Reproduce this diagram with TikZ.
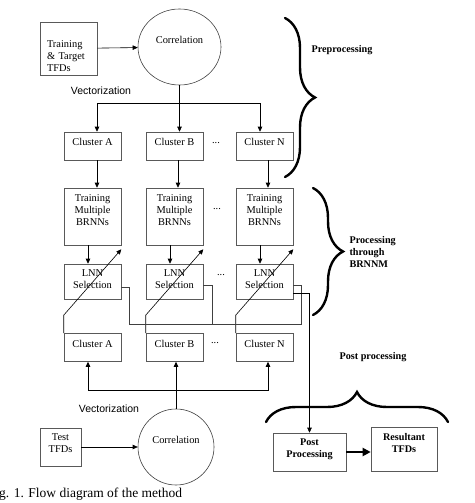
\documentclass[tikz,border=0pt]{standalone}
\usepackage{fontspec}
\setmainfont{Liberation Serif}
\setsansfont{Liberation Sans}
\usepackage{tikz}
\usetikzlibrary{arrows.meta,positioning,shapes.geometric,calc,decorations.pathreplacing}

\begin{document}
\begin{tikzpicture}[x=1pt, y=-1pt, font=\fontsize{10.4}{12}\selectfont]
    \useasboundingbox (0,0) rectangle (474,503);
    % Define styles
    \tikzstyle{block} = [rectangle, draw=black!65, line width=0.6pt, minimum width=57pt,
                         inner sep=2pt, align=center]
    \tikzstyle{cluster} = [block, minimum height=28pt, text depth=8pt]
    \tikzstyle{train} = [block, minimum height=57pt, text depth=13pt]
    \tikzstyle{select} = [block, minimum height=35pt, text depth=4pt]
    \tikzstyle{corr} = [ellipse, draw=black!75, line width=0.6pt, inner sep=0pt, text depth=14pt]
    \tikzstyle{arr} = [-{Triangle[length=5pt,width=4.5pt]}, line width=0.6pt]
    \tikzstyle{link} = [line width=0.6pt, draw=black!75]
    \tikzstyle{curly} = [decorate, decoration={brace, amplitude=30pt}, line width=2.4pt, line cap=round]
    \tikzstyle{tag} = [font=\fontsize{10.2}{12}\selectfont\bfseries, align=left]
    \tikzstyle{vec} = [font=\sffamily\fontsize{10.5}{12}\selectfont]

    % Nodes
    \node[block, minimum height=53pt, text width=43pt, align=left, inner xsep=7pt, text depth=9pt]
        (ttd) at (68.5,48.5) {Training\\\& Target\\TFDs};
    \node[corr, minimum width=83pt, minimum height=76pt] (corr1) at (179.5,47) {Correlation};

    \node[cluster] (topA) at (92.5,146) {Cluster A};
    \node[cluster] (topB) at (174.5,146) {Cluster B};
    \node[cluster] (topN) at (264.5,146) {Cluster N};
    \node (dotsT) at (216,143) {...};

    \node[train] (trainA) at (92.5,216.5) {Training\\Multiple\\BRNNs};
    \node[train] (trainB) at (174.5,216.5) {Training\\Multiple\\BRNNs};
    \node[train] (trainN) at (264.5,216.5) {Training\\Multiple\\BRNNs};
    \node (dotsR) at (217,209) {...};

    \node[select] (selA) at (92.5,281.5) {LNN\\Selection};
    \node[select] (selB) at (174.5,281.5) {LNN\\Selection};
    \node[select] (selN) at (264.5,281.5) {LNN\\Selection};
    \node (dotsS) at (221,275) {...};

    \node[cluster] (lowA) at (92.5,347.5) {Cluster A};
    \node[cluster] (lowB) at (174.5,347.5) {Cluster B};
    \node[cluster] (lowN) at (264.5,347.5) {Cluster N};
    \node (dotsL) at (215,343) {...};

    \node[block, minimum width=41pt, minimum height=38pt, text depth=7pt] (test) at (60.5,447) {Test\\TFDs};
    \node[corr, minimum width=76pt, minimum height=76pt] (corr2) at (176,447) {Correlation};
    \node[block, minimum width=73pt, minimum height=38pt, font=\fontsize{10.2}{12}\selectfont\bfseries, text depth=8pt]
        (post) at (309.5,452) {Post\\Processing};
    \node[block, minimum width=66pt, minimum height=44pt, font=\fontsize{10.2}{12}\selectfont\bfseries, text depth=12pt]
        (res) at (404,449) {Resultant\\TFDs};

    \coordinate (splitT) at (179.5,103);
    \coordinate (splitB) at (176,390);
    \coordinate (busL) at (129,324);
    \coordinate (busB) at (212,324);
    \coordinate (busR) at (301,324);

    % Connections
    \draw[arr] (ttd) -- (corr1);
    \draw[arr] (corr1.south) -- (corr1.south |- topB.north);
    \draw[arr] (splitT) -| ([xshift=4.5pt]topA.north);
    \draw[arr] (splitT) -| ([xshift=-4.5pt]topN.north);

    \draw[arr] ([xshift=4.5pt]topA.south) -- ([xshift=4.5pt]trainA.north);
    \draw[arr] ([xshift=3.5pt]topB.south) -- ([xshift=3.5pt]trainB.north);
    \draw[arr] ([xshift=3.5pt]topN.south) -- ([xshift=3.5pt]trainN.north);

    \draw[arr] ([xshift=-4.5pt]trainA.south) -- ([xshift=-4.5pt]selA.north);
    \draw[arr] ([xshift=-4.5pt]trainB.south) -- ([xshift=-4.5pt]selB.north);
    \draw[arr] ([xshift=-4.5pt]trainN.south) -- ([xshift=-4.5pt]selN.north);

    \draw[arr] (lowA.north west) -- ++(0,-18) -- ([yshift=-4pt]trainA.south east);
    \draw[arr] (lowB.north west) -- ++(0,-18) -- ([yshift=-4pt]trainB.south east);
    \draw[arr] (lowN.north west) -- ++(0,-18) -- ([yshift=-4pt]trainN.south east);

    \draw[link] ([yshift=-5.5pt]selA.east) -| (busL) -- (busR) |- ([yshift=-3.5pt]selN.east);
    \draw[link] ([yshift=-3.5pt]selB.east) -| (busB);
    \draw[arr] ([yshift=-11.5pt]selN.east) -| (post.north);

    \draw[arr] (corr2.north) -- (corr2.north |- lowB.south);
    \draw[arr] (splitB) -| ([xshift=-4.5pt]lowA.south);
    \draw[arr] (splitB) -| ([xshift=3.5pt]lowN.south);
    \draw[arr] (test) -- (corr2);
    \draw[-{Triangle[length=8pt,width=8pt]}, line width=2.2pt] (post.east) -- (post.east -| res.west);

    % Annotations
    \draw[curly] (285,18) -- (285,177);
    \node[tag] (pre) at (342,50) {Preprocessing};
    \draw[curly] (313,188) -- (313,315);
    \node[tag, anchor=west] (proc) at (346,252) {Processing\\through\\BRNNM};
    \draw[curly] (266,422) -- (448,422);
    \node[tag] (postlbl) at (373,357) {Post processing};
    \node[vec] (vecT) at (101,91) {Vectorization};
    \node[vec] (vecB) at (109,409) {Vectorization};
    \node[font=\fontsize{13.5}{16}\selectfont, anchor=base west, inner sep=0pt] (cap) at (-1,497)
        {g. 1. Flow diagram of the method};
\end{tikzpicture}
\end{document}
